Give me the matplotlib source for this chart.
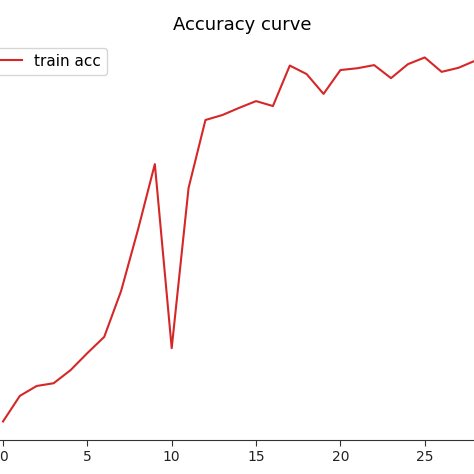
import matplotlib
matplotlib.use("Agg")
import matplotlib.pyplot as plt

epochs = list(range(29))
train_acc = [0.130, 0.187, 0.209, 0.215, 0.244, 0.282, 0.318, 0.420, 0.556, 0.702,
             0.293, 0.649, 0.800, 0.811, 0.827, 0.842, 0.831, 0.921, 0.902, 0.858,
             0.911, 0.915, 0.922, 0.893, 0.924, 0.939, 0.907, 0.916, 0.932]
xticks = [0, 5, 10, 15, 20, 25]

W = 474.0
fig = plt.figure(figsize=(4.74, 4.74), dpi=100)
left_px, right_px, bottom_px, top_px = -16.0, 500.0, 440.0, 42.0
ax = fig.add_axes([left_px / W, (W - bottom_px) / W,
                   (right_px - left_px) / W, (bottom_px - top_px) / W])

ax.plot(epochs, train_acc, color="#d62728", linewidth=1.5, label="train acc")

# x: 0 at px 3, 16.87 px per unit
ppu = 16.87
ax.set_xlim((left_px - 3) / ppu, (right_px - 3) / ppu)
ax.set_ylim(40 / 450, 438 / 450)
ax.set_xticks(xticks)
ax.set_yticks([])
ax.tick_params(axis="x", labelsize=10, length=4, color="#333333", labelcolor="#222222")
for s in ["top", "right", "left"]:
    ax.spines[s].set_visible(False)
ax.spines["bottom"].set_color("#333333")

ax.set_title("Accuracy curve", fontsize=13, pad=9)
ax.legend(loc="upper left", fontsize=11, borderaxespad=0,
          bbox_to_anchor=(-14.7 / W, (W - 47.7) / W), bbox_transform=fig.transFigure)

fig.savefig("out.png", dpi=100)
